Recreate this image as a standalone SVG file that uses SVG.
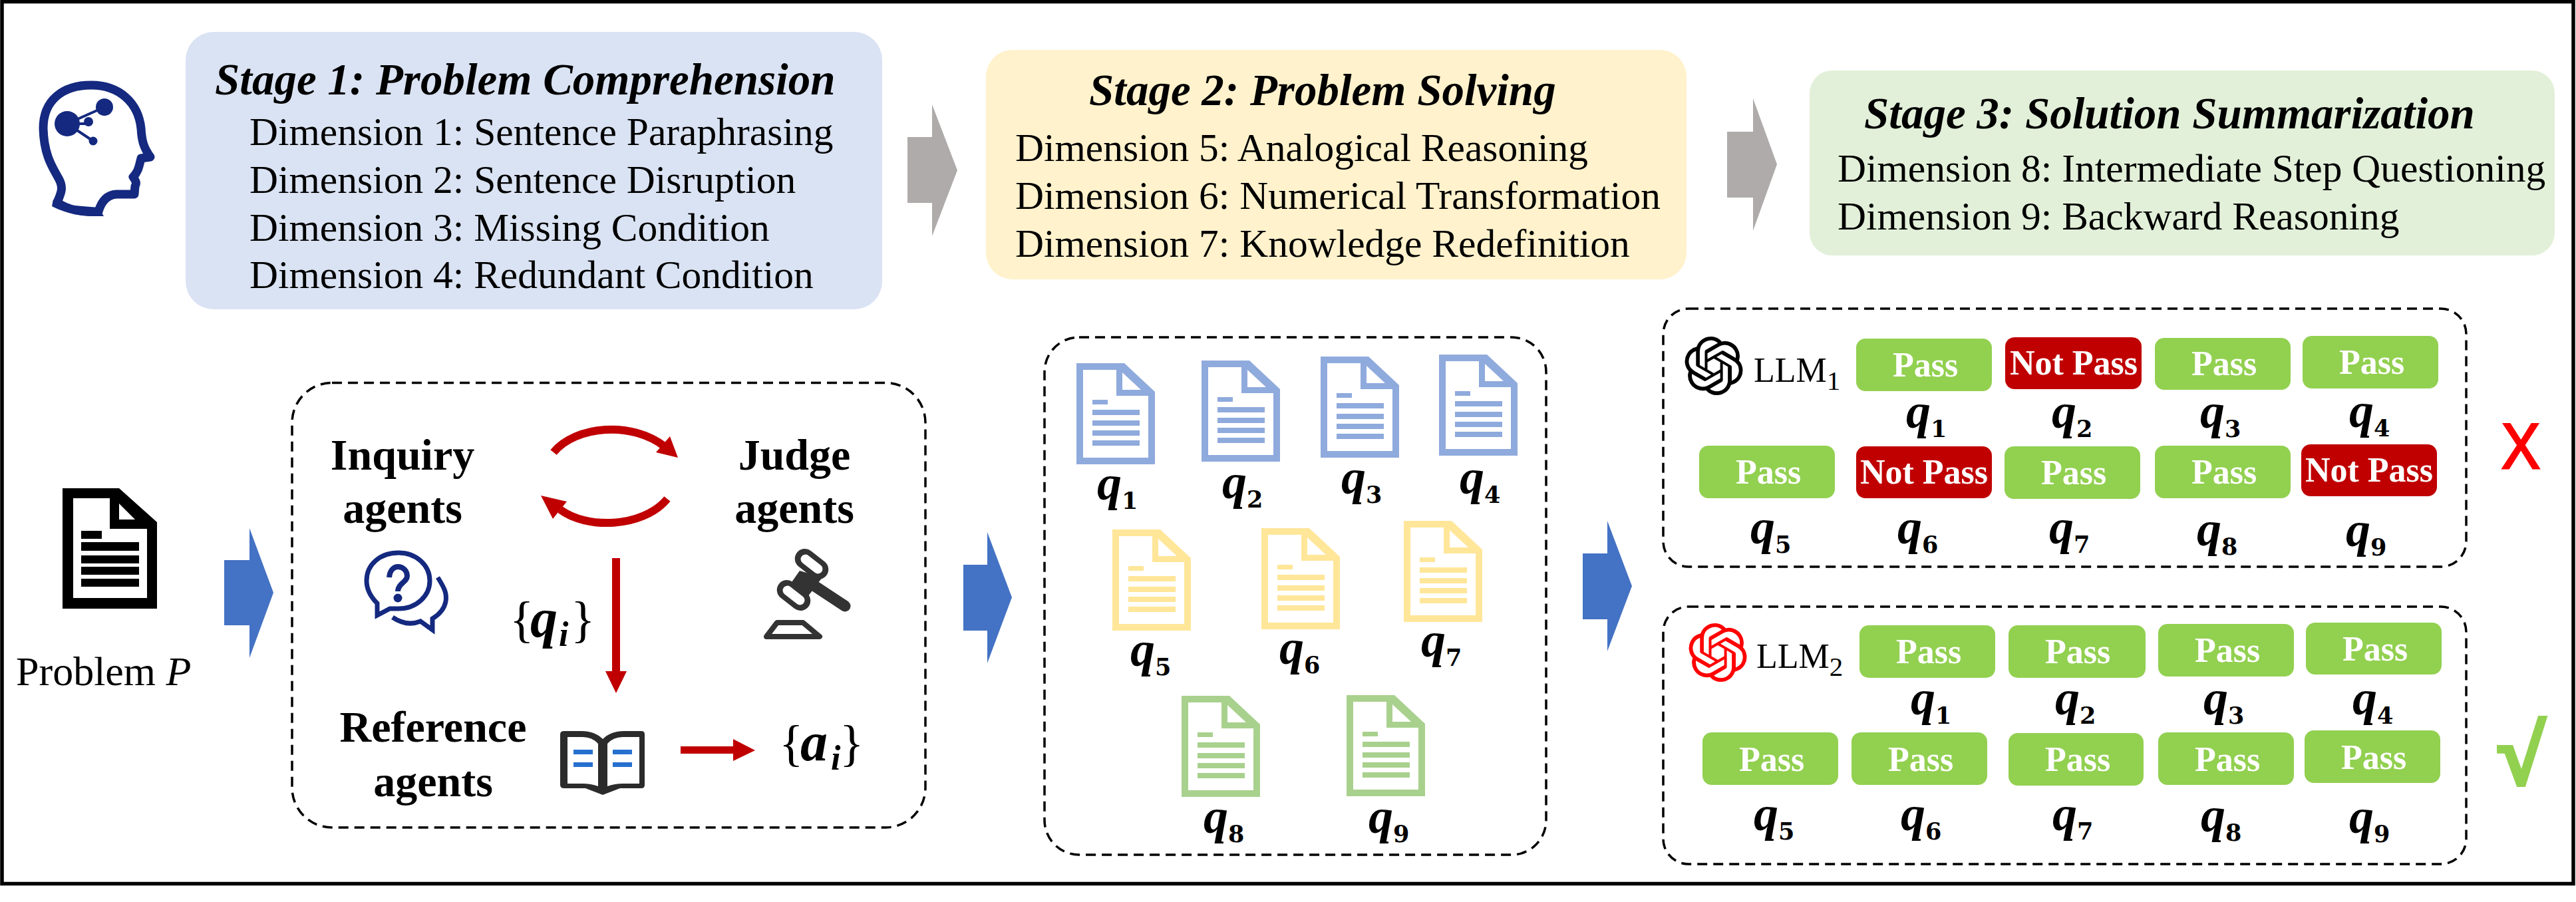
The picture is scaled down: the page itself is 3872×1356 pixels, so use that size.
<svg xmlns="http://www.w3.org/2000/svg" xmlns:xlink="http://www.w3.org/1999/xlink" width="3872" height="1356" viewBox="0 0 3872 1356">
<style>
text{font-family:"Liberation Serif","Times New Roman",serif;fill:#000}
.title{font-size:67px;font-weight:bold;font-style:italic}
.dim{font-size:59.5px}
.agent{font-size:66px;font-weight:bold;text-anchor:middle}
.q{font-size:74px;font-weight:bold;font-style:italic}
.s{font-family:"DejaVu Serif",serif;font-size:35px;font-weight:bold;font-style:normal}
.pass{font-size:52px;font-weight:bold;fill:#fff;text-anchor:middle}
.set{font-size:76px}
.sv{font-size:82px;font-weight:bold;font-style:italic}
.si{font-size:52px;font-weight:bold;font-style:italic}
.llm{font-size:52px}
.g{fill:#92D050}.r{fill:#C00000}
.dash{fill:none;stroke:#000;stroke-width:3.5;stroke-dasharray:15 9}
.blue{fill:#4472C4}.grey{fill:#AFABAB}.red{fill:#C00000}
.arc{fill:none;stroke:#C00000;stroke-width:12}
.dk{fill:#333}
.navy{fill:none;stroke:#14297F}
</style>
<defs>
<symbol id="doc" viewBox="0 0 118 152" width="118" height="152" overflow="visible">
<path fill="currentColor" fill-rule="evenodd" d="M0,0H72L118,43V152H0ZM10,10V142H108V49H60V10ZM69,14V40H97Z"/>
<path fill="currentColor" d="M24,55h23v7H24zM24,70h71v8H24zM24,86h71v8H24zM24,101h71v8H24zM24,116h71v8H24z"/>
</symbol>
<path id="oai" d="M22.2819 9.8211a5.9847 5.9847 0 0 0-.5157-4.9108 6.0462 6.0462 0 0 0-6.5098-2.9A6.0651 6.0651 0 0 0 4.9807 4.1818a5.9847 5.9847 0 0 0-3.9977 2.9 6.0462 6.0462 0 0 0 .7427 7.0966 5.98 5.98 0 0 0 .511 4.9107 6.051 6.051 0 0 0 6.5146 2.9001A5.9847 5.9847 0 0 0 13.2599 24a6.0557 6.0557 0 0 0 5.7718-4.2058 5.9894 5.9894 0 0 0 3.9977-2.9001 6.0557 6.0557 0 0 0-.7475-7.0729zm-9.022 12.6081a4.4755 4.4755 0 0 1-2.8764-1.0408l.1419-.0804 4.7783-2.7582a.7948.7948 0 0 0 .3927-.6813v-6.7369l2.02 1.1686a.071.071 0 0 1 .038.052v5.5826a4.504 4.504 0 0 1-4.4945 4.4944zm-9.6607-4.1254a4.4708 4.4708 0 0 1-.5346-3.0137l.142.0852 4.783 2.7582a.7712.7712 0 0 0 .7806 0l5.8428-3.3685v2.3324a.0804.0804 0 0 1-.0332.0615L9.74 19.9502a4.4992 4.4992 0 0 1-6.1408-1.6464zM2.3408 7.8956a4.485 4.485 0 0 1 2.3655-1.9728V11.6a.7664.7664 0 0 0 .3879.6765l5.8144 3.3543-2.0201 1.1685a.0757.0757 0 0 1-.071 0l-4.8303-2.7865A4.504 4.504 0 0 1 2.3408 7.872zm16.5963 3.8558L13.1038 8.364 15.1192 7.2a.0757.0757 0 0 1 .071 0l4.8303 2.7913a4.4944 4.4944 0 0 1-.6765 8.1042v-5.6772a.79.79 0 0 0-.407-.667zm2.0107-3.0231l-.142-.0852-4.7735-2.7818a.7759.7759 0 0 0-.7854 0L9.409 9.2297V6.8974a.0662.0662 0 0 1 .0284-.0615l4.8303-2.7866a4.4992 4.4992 0 0 1 6.6802 4.66zM8.3065 12.863l-2.02-1.1638a.0804.0804 0 0 1-.038-.0567V6.0742a4.4992 4.4992 0 0 1 7.3757-3.4537l-.142.0805L8.704 5.459a.7948.7948 0 0 0-.3927.6813zm1.0976-2.3654l2.602-1.4998 2.6069 1.4998v2.9994l-2.5974 1.4997-2.6067-1.4997Z"/>
</defs>
<rect width="3872" height="1356" fill="#fff"/>
<rect id="frame" x="3" y="2.5" width="3865" height="1326" fill="none" stroke="#000" stroke-width="5.5"/>

<g id="head-icon">
<path class="navy" stroke-width="13" stroke-linejoin="round" d="M86,304C92,290 96,282 88,268C78,250 66,232 65,193C65,150 95,128 137,128C180,128 208,155 212,193C213,212 216,222 226,236L212,238C209,250 208,258 200,266C204,272 206,275 203,280L202,292H175C160,293 152,304 148,318C125,320 100,315 86,304Z"/>
<path fill="#14297F" d="M80,300L100,308L148,312L156,325H134Q100,322 78,310Z"/>
<g fill="#14297F"><circle cx="101" cy="186" r="19"/><circle cx="157" cy="161" r="13"/><circle cx="133" cy="183" r="7"/><circle cx="140" cy="212" r="6.5"/></g>
<path stroke="#14297F" stroke-width="4" fill="none" d="M101,186L157,161M101,186H133M101,186L140,212"/>
</g>

<g id="stage1">
<rect x="279" y="48" width="1047" height="417" rx="42" fill="#DAE3F3"/>
<text class="title" x="323" y="142">Stage 1: Problem Comprehension</text>
<text class="dim" x="375" y="218">Dimension 1: Sentence Paraphrasing</text>
<text class="dim" x="375" y="290">Dimension 2: Sentence Disruption</text>
<text class="dim" x="375" y="362">Dimension 3: Missing Condition</text>
<text class="dim" x="375" y="433">Dimension 4: Redundant Condition</text>
</g>
<g id="stage2">
<rect x="1482" y="75" width="1053" height="345" rx="40" fill="#FFF2CC"/>
<text class="title" x="1637" y="158">Stage 2: Problem Solving</text>
<text class="dim" x="1526" y="242">Dimension 5: Analogical Reasoning</text>
<text class="dim" x="1526" y="314">Dimension 6: Numerical Transformation</text>
<text class="dim" x="1526" y="386">Dimension 7: Knowledge Redefinition</text>
</g>
<g id="stage3">
<rect x="2720" y="106" width="1120" height="278" rx="34" fill="#E2F0D9"/>
<text class="title" x="2802" y="193">Stage 3: Solution Summarization</text>
<text class="dim" x="2762" y="273">Dimension 8: Intermediate Step Questioning</text>
<text class="dim" x="2762" y="345">Dimension 9: Backward Reasoning</text>
</g>

<g id="problem">
<path fill="#000" fill-rule="evenodd" d="M94,734H179L236,785V915H94ZM110,749V899H221V795H165V749ZM179,757V781H203Z"/>
<path fill="#000" d="M122,798h31v12h-31zM122,815h87v13h-87zM122,835h87v12h-87zM122,852h87v12h-87zM122,870h87v12h-87z"/>
<text x="24" y="1030" font-size="62">Problem <tspan font-style="italic">P</tspan></text>
</g>

<g id="agents-box">
<rect class="dash" x="439" y="575.5" width="952" height="668.5" rx="60"/>
</g>
<g id="inquiry">
<text class="agent" x="605" y="706">Inquiry</text>
<text class="agent" x="605" y="786">agents</text>
<g class="navy" stroke-width="7" stroke-linejoin="miter">
<path d="M567,925V907C556,896 551,885 551,873C551,848 572,831 599,831C626,831 646,850 646,873C646,896 626,915 599,915H586Z"/>
<path d="M658,868C668,884 672,892 670,904C668,915 660,924 650,930V947L632,934C620,939 605,938 590,928"/>
<path d="M585,868C586,857 592,852 598,852C606,852 612,858 612,866C612,875 598,877 598,889" stroke-width="8"/>
</g>
<circle cx="598" cy="899" r="6.5" fill="#14297F"/>
</g>
<g id="judge">
<text class="agent" x="1194" y="706">Judge</text>
<text class="agent" x="1194" y="786">agents</text>
<path class="dk" d="M1202,858L1183,885L1208,905L1236,868Z"/>
<path d="M1220,878L1270,911" stroke="#333" stroke-width="17" stroke-linecap="round"/>
<g transform="translate(1220,848) rotate(38)"><rect class="dk" x="-28" y="-15" width="56" height="30" rx="15"/><rect x="-19" y="-7" width="38" height="14" rx="7" fill="#fff"/></g>
<g transform="translate(1193,895) rotate(38)"><rect class="dk" x="-28" y="-15" width="56" height="30" rx="15"/><rect x="-19" y="-7" width="38" height="14" rx="7" fill="#fff"/></g>
<path d="M1168,936H1207L1232,957H1152Z" fill="#fff" stroke="#333" stroke-width="8" stroke-linejoin="round"/>
</g>
<g id="reference">
<text class="agent" x="651" y="1115">Reference</text>
<text class="agent" x="651" y="1197">agents</text>
<path fill="#2B2B2B" d="M848,1099H874Q894,1099 906,1111Q918,1099 938,1099H964Q969,1099 969,1104V1180Q969,1185 964,1185H932L906,1195L880,1185H848Q842,1185 842,1180V1104Q842,1099 848,1099Z"/>
<path fill="#fff" d="M853,1108H876Q890,1108 899,1118V1182Q888,1178 876,1178H853ZM913,1118Q922,1108 936,1108H961V1178H936Q924,1178 913,1182Z"/>
<path fill="#2670D0" d="M862,1127h29v7h-29zM862,1146h29v7h-29zM921,1127h29v7h-29zM921,1146h29v7h-29z"/>
</g>
<g id="q-set"><text y="957"><tspan class="set" x="766">{</tspan><tspan class="sv" x="797">q</tspan><tspan class="si" x="840" dy="14">i</tspan><tspan class="set" x="858" dy="-14">}</tspan></text></g>
<g id="a-set"><text y="1143"><tspan class="set" x="1171">{</tspan><tspan class="sv" x="1203">a</tspan><tspan class="si" x="1249" dy="14">i</tspan><tspan class="set" x="1262" dy="-14">}</tspan></text></g>

<g id="questions-box">
<rect class="dash" x="1570" y="507" width="754" height="778" rx="52"/>
</g>
<g id="question-docs">
<g color="#8FAADC"><use href="#doc" x="1618" y="546"/><use href="#doc" x="1806" y="542"/><use href="#doc" x="1985" y="536"/><use href="#doc" x="2163" y="533"/></g>
<g color="#FFE699"><use href="#doc" x="1672" y="796"/><use href="#doc" x="1896" y="794"/><use href="#doc" x="2110" y="783"/></g>
<g color="#A9D18E"><use href="#doc" x="1776" y="1046"/><use href="#doc" x="2024" y="1045"/></g>
<text class="q" x="1649" y="751">q<tspan class="s" dy="14">1</tspan></text>
<text class="q" x="1837" y="749">q<tspan class="s" dy="14">2</tspan></text>
<text class="q" x="2016" y="742">q<tspan class="s" dy="14">3</tspan></text>
<text class="q" x="2194" y="742">q<tspan class="s" dy="14">4</tspan></text>
<text class="q" x="1699" y="1001">q<tspan class="s" dy="14">5</tspan></text>
<text class="q" x="1923" y="998">q<tspan class="s" dy="14">6</tspan></text>
<text class="q" x="2136" y="987">q<tspan class="s" dy="14">7</tspan></text>
<text class="q" x="1809" y="1252">q<tspan class="s" dy="14">8</tspan></text>
<text class="q" x="2057" y="1252">q<tspan class="s" dy="14">9</tspan></text>
</g>

<g id="llm1">
<rect class="dash" x="2500" y="464" width="1207" height="388" rx="38"/>
<use href="#oai" transform="translate(2532,506) scale(3.67)" fill="#000"/>
<text class="llm" x="2636" y="574">LLM<tspan font-size="41" dy="12">1</tspan></text>
<rect class="g" x="2790" y="509" width="204" height="79" rx="14"/><text class="pass" x="2894" y="566">Pass</text>
<rect class="r" x="3014" y="507" width="205" height="78" rx="14"/><text class="pass" x="3117" y="563">Not Pass</text>
<rect class="g" x="3239" y="508" width="204" height="78" rx="14"/><text class="pass" x="3343" y="564">Pass</text>
<rect class="g" x="3461" y="505" width="204" height="79" rx="14"/><text class="pass" x="3565" y="562">Pass</text>
<rect class="g" x="2554" y="670" width="204" height="79" rx="14"/><text class="pass" x="2658" y="727">Pass</text>
<rect class="r" x="2790" y="671" width="204" height="78" rx="14"/><text class="pass" x="2892" y="727">Not Pass</text>
<rect class="g" x="3013" y="671" width="204" height="79" rx="14"/><text class="pass" x="3117" y="728">Pass</text>
<rect class="g" x="3239" y="670" width="204" height="79" rx="14"/><text class="pass" x="3343" y="727">Pass</text>
<rect class="r" x="3459" y="668" width="204" height="78" rx="14"/><text class="pass" x="3561" y="724">Not Pass</text>
<text class="q" x="2865" y="643">q<tspan class="s" dy="14">1</tspan></text>
<text class="q" x="3084" y="643">q<tspan class="s" dy="14">2</tspan></text>
<text class="q" x="3307" y="643">q<tspan class="s" dy="14">3</tspan></text>
<text class="q" x="3531" y="642">q<tspan class="s" dy="14">4</tspan></text>
<text class="q" x="2631" y="817">q<tspan class="s" dy="14">5</tspan></text>
<text class="q" x="2852" y="817">q<tspan class="s" dy="14">6</tspan></text>
<text class="q" x="3080" y="817">q<tspan class="s" dy="14">7</tspan></text>
<text class="q" x="3302" y="820">q<tspan class="s" dy="14">8</tspan></text>
<text class="q" x="3526" y="821">q<tspan class="s" dy="14">9</tspan></text>
</g>
<g id="verdict1"><text x="3760" y="704" font-size="96" stroke="#F00" stroke-width="3" textLength="58" lengthAdjust="spacingAndGlyphs" style="font-family:'Liberation Sans',sans-serif;fill:#F00">X</text></g>

<g id="llm2">
<rect class="dash" x="2500" y="912" width="1207" height="387" rx="38"/>
<use href="#oai" transform="translate(2538,937) scale(3.67)" fill="#F00"/>
<text class="llm" x="2640" y="1004">LLM<tspan font-size="41" dy="12">2</tspan></text>
<rect class="g" x="2795" y="940" width="204" height="79" rx="14"/><text class="pass" x="2899" y="997">Pass</text>
<rect class="g" x="3019" y="940" width="206" height="79" rx="14"/><text class="pass" x="3123" y="997">Pass</text>
<rect class="g" x="3244" y="938" width="204" height="79" rx="14"/><text class="pass" x="3348" y="995">Pass</text>
<rect class="g" x="3466" y="936" width="204" height="78" rx="14"/><text class="pass" x="3570" y="993">Pass</text>
<rect class="g" x="2559" y="1101" width="204" height="79" rx="14"/><text class="pass" x="2663" y="1159">Pass</text>
<rect class="g" x="2783" y="1101" width="204" height="79" rx="14"/><text class="pass" x="2887" y="1159">Pass</text>
<rect class="g" x="3019" y="1102" width="203" height="79" rx="14"/><text class="pass" x="3123" y="1159">Pass</text>
<rect class="g" x="3244" y="1101" width="204" height="79" rx="14"/><text class="pass" x="3348" y="1159">Pass</text>
<rect class="g" x="3464" y="1098" width="204" height="79" rx="14"/><text class="pass" x="3568" y="1156">Pass</text>
<text class="q" x="2872" y="1074">q<tspan class="s" dy="14">1</tspan></text>
<text class="q" x="3089" y="1074">q<tspan class="s" dy="14">2</tspan></text>
<text class="q" x="3312" y="1074">q<tspan class="s" dy="14">3</tspan></text>
<text class="q" x="3536" y="1074">q<tspan class="s" dy="14">4</tspan></text>
<text class="q" x="2636" y="1248">q<tspan class="s" dy="14">5</tspan></text>
<text class="q" x="2857" y="1248">q<tspan class="s" dy="14">6</tspan></text>
<text class="q" x="3085" y="1248">q<tspan class="s" dy="14">7</tspan></text>
<text class="q" x="3308" y="1250">q<tspan class="s" dy="14">8</tspan></text>
<text class="q" x="3531" y="1252">q<tspan class="s" dy="14">9</tspan></text>
</g>
<g id="verdict2"><text x="3754" y="1178" font-size="124" font-weight="bold" stroke="#92D050" stroke-width="8" textLength="70" lengthAdjust="spacingAndGlyphs" style="fill:#92D050">√</text></g>

<g id="connectors">
<polygon class="grey" points="1364,206 1401,206 1401,157 1439,256 1401,355 1401,305 1364,305"/>
<polygon class="grey" points="2596,198 2635,198 2635,148 2671,247 2635,347 2635,297 2596,297"/>
<polygon class="blue" points="337,842 375,842 375,794 411,891 375,989 375,940 337,940"/>
<polygon class="blue" points="1448,849 1484,849 1484,800 1521,898 1484,997 1484,948 1448,948"/>
<polygon class="blue" points="2379,832 2416,832 2416,783 2453,881 2416,979 2416,931 2379,931"/>
<path class="arc" d="M832,680C865,640 950,632 1000,672"/>
<polygon class="red" points="1019,688 1007,656 986,680"/>
<path class="arc" d="M1003,750C965,795 880,795 842,766"/>
<polygon class="red" points="813,745 852,754 831,780"/>
<polygon class="red" points="920,839 932,839 932,1009 942,1009 926,1042 910,1009 920,1009"/>
<polygon class="red" points="1023,1122 1102,1122 1102,1111 1135,1128 1102,1144 1102,1133 1023,1133"/>
</g>
</svg>
